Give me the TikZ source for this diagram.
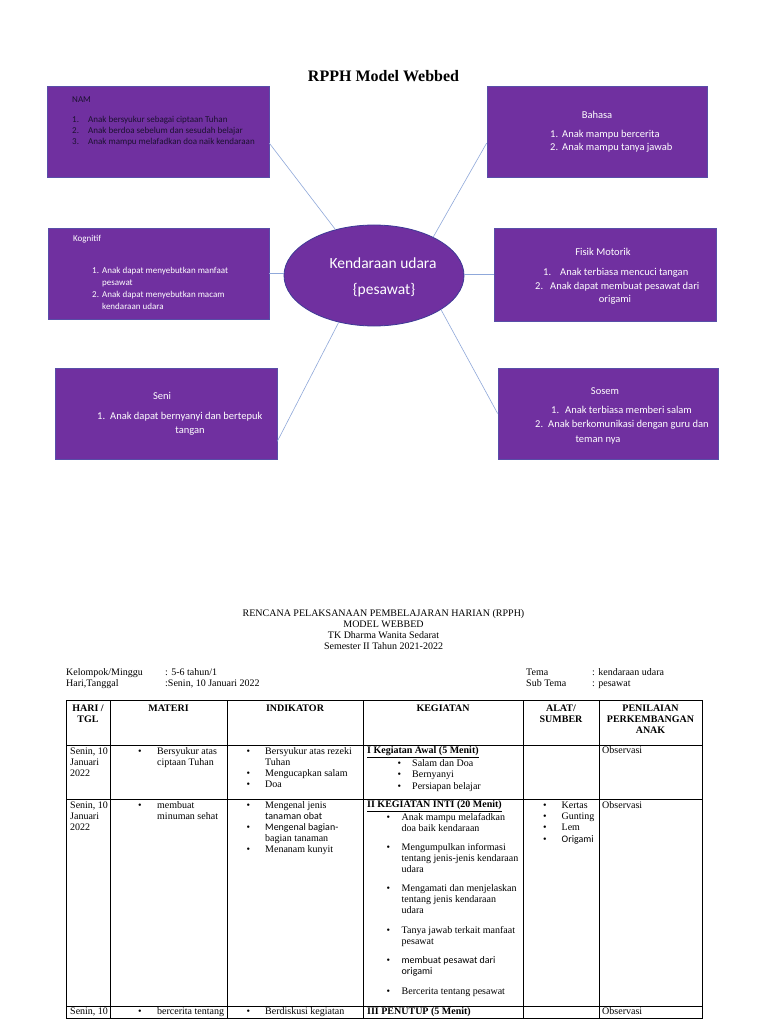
\documentclass[tikz,border=0pt]{standalone}
\usepackage{fontspec}
\setmainfont{Liberation Serif}
\newfontfamily\boxfont{Carlito}
\usetikzlibrary{shapes.geometric}

\definecolor{boxpurple}{RGB}{112,48,160}
\definecolor{boxline}{RGB}{88,78,168}
\definecolor{ellline}{RGB}{62,58,150}
\definecolor{spokeblue}{RGB}{143,168,218}
\definecolor{namdark}{RGB}{28,18,48}

\newcommand{\celllines}[1]{\begin{tabular}[t]{@{}l@{}}#1\end{tabular}}
\newcommand{\cellcenter}[1]{\begin{tabular}[t]{@{}c@{}}#1\end{tabular}}
\newcommand{\itemlist}[2]{\begin{tabular}[t]{@{}p{#1}@{}l@{}}#2\end{tabular}}

\begin{document}
\begin{tikzpicture}[x=1pt,y=-1pt]

\tikzstyle{purplebox}=[draw=boxline,fill=boxpurple,line width=0.7pt,inner sep=0pt]
\tikzstyle{spoke}=[draw=spokeblue,line width=0.6pt]
\tikzstyle{boxtext}=[inner sep=0pt,anchor=mid west,text=white,font=\boxfont\fontsize{10.5}{13}\selectfont]
\tikzstyle{smalltext}=[inner sep=0pt,anchor=mid west,text=white,font=\boxfont\fontsize{9}{12}\selectfont]
\tikzstyle{doc}=[inner sep=0pt,anchor=mid west,font=\fontsize{10}{11}\selectfont]
\tikzstyle{head}=[inner sep=0pt,anchor=mid,font=\bfseries\fontsize{10}{11}\selectfont]
\tikzstyle{tableline}=[line width=0.8pt,black]

\fill [white] (0,0) rectangle (768,1024);
\useasboundingbox (0,0) rectangle (768,1024);

\node (title) [inner sep=0pt,anchor=base,font=\bfseries\fontsize{16}{19}\selectfont] at (383.5,81.5) {RPPH Model Webbed};

\node (nam) [purplebox,minimum width=222pt,minimum height=91pt] at (158,131.5) {};
\node (bahasa) [purplebox,minimum width=220pt,minimum height=91pt] at (597,131.5) {};
\node (kog) [purplebox,minimum width=221pt,minimum height=91pt] at (158.5,273.5) {};
\node (fisik) [purplebox,minimum width=222pt,minimum height=93pt] at (605,274.5) {};
\node (seni) [purplebox,minimum width=222pt,minimum height=91pt] at (166,413.5) {};
\node (sosem) [purplebox,minimum width=220pt,minimum height=91pt] at (608,413.5) {};
\node (ell) [ellipse,draw=ellline,fill=boxpurple,line width=0.8pt,minimum width=180pt,minimum height=101pt,inner sep=0pt] at (374,275.5) {};

\draw [spoke] (nam.-6) -- (ell.130);
\draw [spoke] (bahasa.186) -- (ell.33);
\draw [spoke] (kog.east) -- (kog.east -| ell.west);
\draw [spoke] (fisik.west) -- (fisik.west -| ell.east);
\draw [spoke] (seni.-14) -- (ell.233);
\draw [spoke] (sosem.west) -- (ell.-27);

\node (elltop) [inner sep=0pt,text=white,font=\boxfont\fontsize{15.5}{18}\selectfont] at (383,263) {Kendaraan udara};
\node (ellbot) [inner sep=0pt,text=white,font=\boxfont\fontsize{15.5}{18}\selectfont] at (384,290) {\{pesawat\}};

\node (namjudul) [smalltext,text=namdark] at (72,100) {NAM};
\node (namisi) [smalltext,text=namdark,font=\boxfont\fontsize{9}{11.3}\selectfont] at (72,120) {\itemlist{16pt}{1.&Anak bersyukur sebagai ciptaan Tuhan\\2.&Anak berdoa sebelum dan sesudah belajar\\3.&Anak mampu melafadkan doa naik kendaraan}};

\node (bahasajudul) [boxtext,anchor=mid] at (597,116) {Bahasa};
\node (bahasaisi) [boxtext] at (550,135) {\itemlist{12pt}{1.&Anak mampu bercerita\\2.&Anak mampu tanya jawab}};

\node (kogjudul) [smalltext] at (73,239) {Kognitif};
\node (kogisi) [smalltext] at (92,271) {\itemlist{10pt}{1.&Anak dapat menyebutkan manfaat\\&pesawat\\2.&Anak dapat menyebutkan macam\\&kendaraan udara}};

\node (fisikjudul) [boxtext,anchor=mid] at (603,253) {Fisik Motorik};
\node (fisik1) [boxtext] at (543,273) {\itemlist{17pt}{1.&Anak terbiasa mencuci tangan}};
\node (fisik2) [boxtext] at (535,287) {\itemlist{15pt}{2.&Anak dapat membuat pesawat dari}};
\node (fisik3) [boxtext,anchor=mid] at (615,300) {origami};

\node (senijudul) [boxtext,anchor=mid] at (162,397) {Seni};
\node (seni1) [boxtext] at (97,417) {\itemlist{13pt}{1.&Anak dapat bernyanyi dan bertepuk}};
\node (seni2) [boxtext,anchor=mid] at (190,431) {tangan};

\node (sosemjudul) [boxtext,anchor=mid] at (605,392) {Sosem};
\node (sosem1) [boxtext] at (551,411) {\itemlist{14pt}{1.&Anak terbiasa memberi salam}};
\node (sosem2) [boxtext] at (535,425) {\itemlist{13pt}{2.&Anak berkomunikasi dengan guru dan}};
\node (sosem3) [boxtext,anchor=mid] at (598,440) {teman nya};

\node (judul) [doc,anchor=mid] at (383.5,614) {\cellcenter{RENCANA PELAKSANAAN PEMBELAJARAN HARIAN (RPPH)\\MODEL WEBBED\\TK Dharma Wanita Sedarat\\Semester II Tahun 2021-2022}};

\node (kelompok) [doc] at (66,673) {\celllines{Kelompok/Minggu\\Hari,Tanggal}};
\node (kelompokisi) [doc] at (165,673) {\celllines{: 5-6 tahun/1\\:Senin, 10 Januari 2022}};
\node (tema) [doc] at (526,673) {\celllines{Tema\\Sub Tema}};
\node (temaisi) [doc] at (592,673) {\celllines{: kendaraan udara\\: pesawat}};

\draw [tableline] (66,700) rectangle (702,1018);
\draw [tableline] (110,700) -- (110,1018);
\draw [tableline] (227,700) -- (227,1018);
\draw [tableline] (363,700) -- (363,1018);
\draw [tableline] (523,700) -- (523,1018);
\draw [tableline] (599,700) -- (599,1018);
\draw [tableline] (66,745) -- (702,745);
\draw [tableline] (66,799) -- (702,799);
\draw [tableline] (66,1006) -- (702,1006);

\node (hhari) [head] at (88,709) {\cellcenter{HARI /\\TGL}};
\node (hmateri) [head] at (168.5,709) {MATERI};
\node (hindikator) [head] at (295,709) {INDIKATOR};
\node (hkegiatan) [head] at (443,709) {KEGIATAN};
\node (halat) [head] at (561,709) {\cellcenter{ALAT/\\SUMBER}};
\node (hnilai) [head] at (650.5,709) {\cellcenter{PENILAIAN\\PERKEMBANGAN\\ANAK}};

\node (hari1) [doc] at (70,752) {\celllines{Senin, 10\\Januari\\2022}};
\node (materi1) [doc] at (138,752) {\itemlist{19pt}{•&Bersyukur atas\\&ciptaan Tuhan}};
\node (indikator1) [doc] at (246.5,752) {\itemlist{18.5pt}{•&Bersyukur atas rezeki\\&Tuhan\\•&Mengucapkan salam\\•&Doa}};
\node (kegiatan1) [doc] at (367,751) {\underline{\textbf{I Kegiatan Awal (5 Menit)}}};
\node (kegiatan1isi) [doc] at (397.5,764) {\itemlist{14.5pt}{•&Salam dan Doa\\•&Bernyanyi\\[1.5pt]•&Persiapan belajar}};
\node (nilai1) [doc] at (602,751) {Observasi};

\node (hari2) [doc] at (70,806) {\celllines{Senin, 10\\Januari\\2022}};
\node (materi2) [doc] at (138,806) {\itemlist{19pt}{•&membuat\\&minuman sehat}};
\node (indikator2) [doc] at (246.5,806) {\itemlist{18.5pt}{•&Mengenal jenis\\&{\boxfont tanaman obat}\\•&{\boxfont Mengenal bagian-}\\&bagian tanaman\\•&Menanam kunyit}};
\node (kegiatan2) [doc] at (367,805.5) {\underline{\textbf{II KEGIATAN INTI (20 Menit)}}};
\node (kegiatan2isi) [doc] at (386.5,818.5) {\itemlist{15pt}{•&Anak mampu melafadkan\\&doa baik kendaraan\\[8pt]•&Mengumpulkan informasi\\&tentang jenis-jenis kendaraan\\&udara\\[8pt]•&Mengamati dan menjelaskan\\&tentang jenis kendaraan\\&udara\\[8.5pt]•&Tanya jawab terkait manfaat\\&pesawat\\[8.5pt]•&{\boxfont membuat pesawat dari}\\&{\boxfont origami}\\[8.5pt]•&Bercerita tentang pesawat}};
\node (alat2) [doc] at (543,806) {\itemlist{18.5pt}{•&Kertas\\•&Gunting\\[0.5pt]•&Lem\\[0.5pt]•&{\boxfont Origami}}};
\node (nilai2) [doc] at (602,806) {Observasi};

\node (hari3) [doc] at (70,1012) {Senin, 10};
\node (materi3) [doc] at (138,1012) {\itemlist{19pt}{•&bercerita tentang}};
\node (indikator3) [doc] at (246.5,1012) {\itemlist{18.5pt}{•&Berdiskusi kegiatan}};
\node (kegiatan3) [doc] at (367,1012) {\underline{\textbf{III PENUTUP (5 Menit)}}};
\node (nilai3) [doc] at (602,1012) {Observasi};

\end{tikzpicture}
\end{document}
